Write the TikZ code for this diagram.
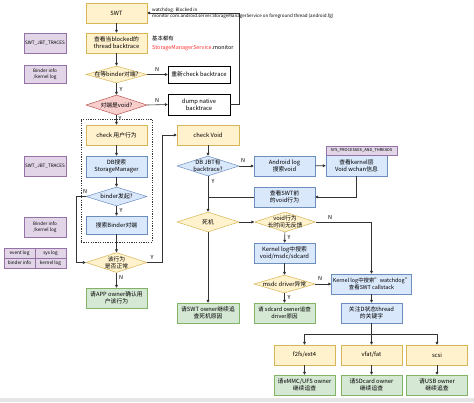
\documentclass[tikz,border=0pt]{standalone}
\usepackage{fontspec}
\setmainfont{Noto Sans CJK SC}
\usetikzlibrary{shapes.geometric,arrows.meta}
\definecolor{yf}{HTML}{FFF2CC}\definecolor{yd}{HTML}{D6B656}
\definecolor{bf}{HTML}{DAE8FC}\definecolor{bd}{HTML}{6C8EBF}
\definecolor{gf}{HTML}{D5E8D4}\definecolor{gd}{HTML}{82B366}
\definecolor{pf}{HTML}{F8CECC}\definecolor{pd}{HTML}{B85450}
\definecolor{vf}{HTML}{E1D5E7}\definecolor{vd}{HTML}{9673A6}
\definecolor{lncol}{HTML}{333333}
\definecolor{rd}{HTML}{FF3333}
\begin{document}
\begin{tikzpicture}[x=1pt,y=-1pt,
 every node/.style={font=\fontsize{5.8}{7.1}\selectfont, align=center, inner sep=0pt, text=black},
 box/.style={rectangle, draw, line width=0.5pt, minimum width=61pt, minimum height=20pt},
 ybox/.style={box, fill=yf, draw=yd},
 bbox/.style={box, fill=bf, draw=bd},
 gbox/.style={box, fill=gf, draw=gd},
 wbox/.style={box, fill=white, draw=black, minimum width=62pt},
 dia/.style={diamond, draw, line width=0.5pt, minimum width=61pt, minimum height=20pt},
 tag/.style={rectangle, fill=vf, draw=vd, line width=0.4pt, minimum width=42pt, minimum height=20pt, font=\fontsize{4.6}{5.8}\selectfont},
 arr/.style={draw=lncol, line width=0.6pt, -{Triangle[length=2.8pt,width=2.8pt]}},
 conn/.style={draw=lncol, line width=0.6pt},
 yn/.style={font=\fontsize{5.5}{6}\selectfont}
]
\useasboundingbox (0,0) rectangle (474,402);
\fill[white] (0,0) rectangle (474,402);
\fill[black!10] (0,398) rectangle (474,402);

% group
\node[draw=black!80, dashed, dash pattern=on 1.2pt off 1.2pt, line width=0.5pt, minimum width=71pt, minimum height=123pt] (grp) at (116.5,180.5) {};

% main column
\node[ybox] (swt) at (116.5,13) {SWT};
\node[ybox] (bt) at (116.5,43) {查看当blocked的\\thread backtrace};
\node[anchor=west, align=left, font=\fontsize{5.4}{8.4}\selectfont] (note) at (152,43.5) {基本都有\\\textcolor{rd}{StorageManagerService}.monitor};
\node[dia, fill=yf, draw=yd, minimum height=17pt, label={center:在等binder对端?}] (d1) at (116.5,74.5) {};
\node[wbox, minimum height=17pt] (redo) at (199,74.5) {重新check backtrace};
\node[dia, fill=pf, draw=pd, label={center:对端是void?}] (d2) at (116.5,105) {};
\node[wbox, minimum height=21pt] (dump) at (199,104.5) {dump native\\backtrace};
\node[ybox] (cu) at (116.5,135) {check 用户行为};
\node[bbox, minimum height=21pt] (db) at (116.5,166.5) {DB搜索\\StorageManager};
\node[dia, fill=bf, draw=bd, minimum height=19pt, label={center:binder发起?}] (d3) at (116.5,196.5) {};
\node[bbox, minimum height=18pt] (sb) at (116.5,225) {搜索Binder对端};
\node[dia, fill=yf, draw=yd, label={center:该行为\\是否正常}] (d4) at (116.5,262.5) {};
\node[gbox] (app) at (116.5,298) {请APP owner确认用\\户该行为};

% left tags
\node[tag] (t1) at (45,43) {SWT\_JBT\_TRACES};
\node[tag, minimum height=18pt] (t2) at (45,74) {Binder info\\/kernel log};
\node[tag] (t3) at (45,166) {SWT\_JBT\_TRACES};
\node[tag] (t4) at (45,227) {Binder info\\/kernel log};
\node[tag, minimum width=31pt, minimum height=10pt] (c1) at (19.5,253) {event log};
\node[tag, minimum width=31pt, minimum height=10pt] (c2) at (50.5,253) {sys log};
\node[tag, minimum width=31pt, minimum height=10pt] (c3) at (19.5,263) {binder info};
\node[tag, minimum width=31pt, minimum height=10pt] (c4) at (50.5,263) {kernel log};

% right part
\node[ybox, minimum width=62pt] (cv) at (208,135) {check Void};
\node[dia, fill=bf, draw=bd, minimum width=62pt, label={center:DB JBT有\\backtrace?}] (d5) at (208,166) {};
\node[bbox] (al) at (284.5,166) {Android log\\搜索void};
\node[bbox, minimum height=21pt] (kw) at (356.5,165.5) {查看kernel层\\Void wchan信息};
\node[tag, minimum width=71pt, minimum height=9pt, font=\fontsize{4}{4.6}\selectfont] (sysp) at (361.5,150.5) {SYS\_PROCESSES\_AND\_THREADS};
\node[bbox] (sv) at (284.5,197) {查看SWT前\\的void行为};
\node[dia, fill=yf, draw=yd, minimum width=62pt, label={center:死机}] (d6) at (208,222) {};
\node[dia, fill=yf, draw=yd, minimum width=61pt, label={center:void行为\\长时间无反馈}] (d7) at (285,222) {};
\node[bbox] (ks) at (284.5,253) {Kernel log中搜索\\void/msdc/sdcard};
\node[dia, fill=yf, draw=yd, minimum height=18pt, label={center:msdc driver异常}] (d8) at (284.5,284) {};
\node[bbox, minimum width=80pt, font=\fontsize{5.4}{7.1}\selectfont] (kw2) at (371.5,284) {Kernel log中搜索"watchdog"\\查看SWT callstack};
\node[gbox, minimum width=62pt] (swo) at (208,313) {请SWT owner继续追\\查死机原因};
\node[gbox, font=\fontsize{5.5}{7.1}\selectfont] (sd) at (284.5,313) {请 sdcard owner追查\\driver原因};
\node[bbox] (dt) at (371.5,313) {关注D状态thread\\的关键字};
\node[ybox] (f1) at (304.5,355) {f2fs/ext4};
\node[ybox] (f2) at (371.5,355) {vfat/fat};
\node[ybox] (f3) at (437,355) {scsi};
\node[gbox] (g1) at (304.5,385) {请eMMC/UFS owner\\继续追查};
\node[gbox] (g2) at (371.5,385) {请SDcard owner\\继续追查};
\node[gbox] (g3) at (437,385) {请USB owner\\继续追查};

% connectors
\coordinate (loop) at (239,13);
\coordinate (nb) at (76,196.5);
\coordinate (yb) at (162,262.5);
\coordinate (br) at (371.5,334);
\draw[arr] (swt) -- (bt);
\draw[arr] (bt) -- (d1);
\draw[arr] (d1.east) -- (redo.west);
\draw[arr] (d1) -- (d2);
\draw[arr] (d2.east) -- (dump.west);
\draw[arr] (dump.east) -| (loop) -- (swt.east);
\draw[arr] (d2) -- (cu);
\draw[arr] (cu) -- (db);
\draw[arr] (db) -- (d3);
\draw[arr] (d3) -- (sb);
\draw[arr] (sb) -- (d4);
\draw[arr] (d3.west) -- (nb) |- (d4.west);
\draw[arr] (d4) -- (app);
\draw[arr] (d4.east) -- (yb) |- (cv.west);
\draw[arr] (cv) -- (d5);
\draw[arr] (d5.east) -- (al.west);
\draw[arr] (al) -- (kw);
\draw[arr] (kw.south) |- (sv.east);
\draw[conn] (sv.west) -- (sv.west -| d5.south);
\draw[arr] (d5) -- (d6);
\draw[arr] (d6.east) -- (d7.west);
\draw[arr] (d6) -- (swo);
\draw[arr] (d7) -- (ks);
\draw[arr] (d7.east) -| (kw2.north);
\draw[arr] (ks) -- (d8);
\draw[arr] (d8.east) -- (kw2.west);
\draw[arr] (d8) -- (sd);
\draw[arr] (kw2) -- (dt);
\draw[arr] (dt) -- (f2);
\draw[arr] (br) -| (f1.north);
\draw[arr] (br) -| (f3.north);
\draw[arr] (f1) -- (g1);
\draw[arr] (f2) -- (g2);
\draw[arr] (f3) -- (g3);

% edge texts
\node[anchor=west, align=left, font=\fontsize{4.5}{6.2}\selectfont] (wd) at (152,13.5) {watchdog: Blocked in\\monitor com.android.server.StorageManagerService on foreground thread (android.fg)};
\node[yn] (n1) at (157,69) {N};
\node[yn] (y1) at (121,89) {Y};
\node[yn] (n2) at (157,100) {N};
\node[yn] (y2) at (120,118) {Y};
\node[yn] (n3) at (85,191) {N};
\node[yn] (y3) at (121,210) {Y};
\node[yn] (y4) at (152,257) {Y};
\node[yn] (n4) at (121,277) {N};
\node[yn] (n5) at (243,160) {N};
\node[yn] (y5) at (213,181) {Y};
\node[yn] (n6) at (330,217) {N};
\node[yn] (y6) at (289,237) {Y};
\node[yn] (n7) at (320,278) {N};
\node[yn] (y7) at (289,297) {Y};
\end{tikzpicture}
\end{document}
